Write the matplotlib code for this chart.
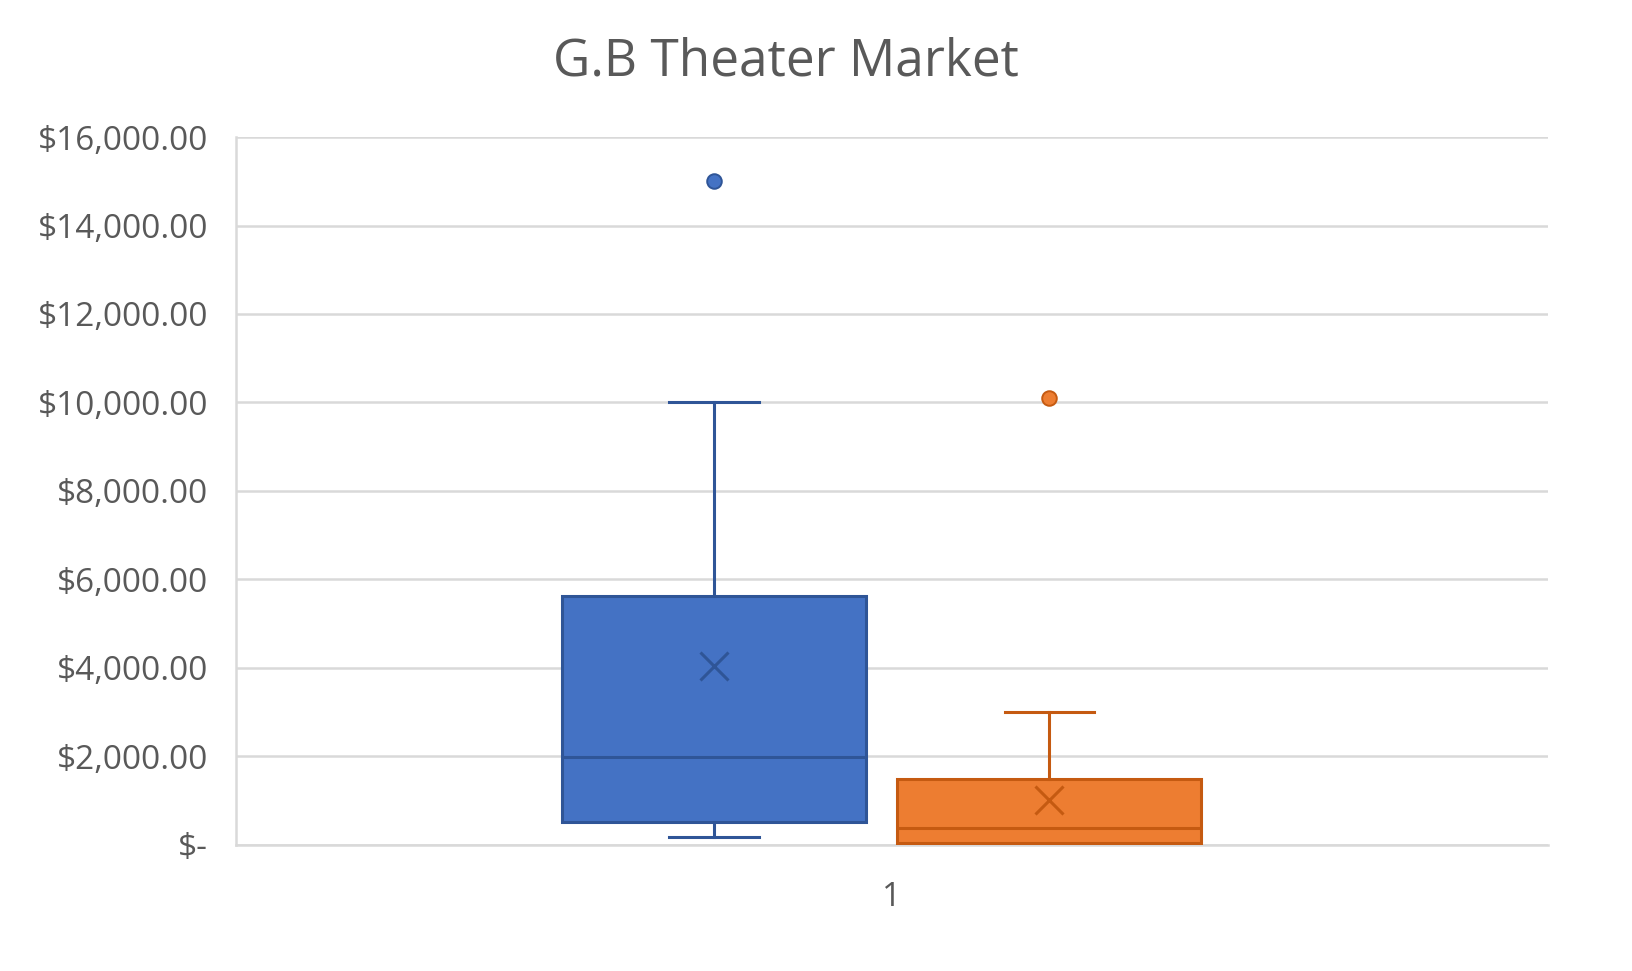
import matplotlib
matplotlib.use("Agg")
import matplotlib.pyplot as plt
import matplotlib.ticker as mticker

series = ["Series A", "Series B"]
whislo = [180, 0]
q1 = [520, 50]
med = [1990, 380]
q3 = [5630, 1490]
whishi = [10000, 3000]
means = [4050, 1020]
fliers = [[15000], [10100]]
categories = ["1"]

face_colors = ["#4472C4", "#ED7D31"]
edge_colors = ["#2F5597", "#C55A11"]
text_color = "#595959"
grid_color = "#D9D9D9"

plt.rcParams['font.family'] = ['Open Sans', 'DejaVu Sans']

fig = plt.figure(figsize=(16.33, 9.71), dpi=100)
ax = fig.add_axes([0.1445, 0.1298, 0.8034, 0.7291])

offsets = [-0.1357, 0.120]
for i in range(len(series)):
    stats = [dict(whislo=whislo[i], q1=q1[i], med=med[i], q3=q3[i],
                  whishi=whishi[i], mean=means[i], fliers=fliers[i])]
    ec = edge_colors[i]
    ax.bxp(stats, positions=[1 + offsets[i]], widths=0.2317, patch_artist=True,
           showmeans=True, capwidths=0.068,
           boxprops=dict(facecolor=face_colors[i], edgecolor=ec, linewidth=2.2),
           medianprops=dict(color=ec, linewidth=2.2),
           whiskerprops=dict(color=ec, linewidth=2.2),
           capprops=dict(color=ec, linewidth=2.2),
           meanprops=dict(marker='x', markeredgecolor=ec, markersize=20,
                          markeredgewidth=2.2),
           flierprops=dict(marker='o', markerfacecolor=face_colors[i],
                           markeredgecolor=ec, markersize=10.5, markeredgewidth=1.4),
           zorder=3)

ax.set_xlim(0.5, 1.5)
ax.set_ylim(0, 16000)
ax.yaxis.set_major_locator(mticker.MultipleLocator(2000))


def money(v, pos):
    if v == 0:
        return "$-"
    return "${:,.2f}".format(v)


ax.yaxis.set_major_formatter(mticker.FuncFormatter(money))
ax.set_xticks([1])
ax.set_xticklabels(categories)
ax.tick_params(axis='y', length=0, pad=20, labelsize=24, labelcolor=text_color)
ax.tick_params(axis='x', length=0, pad=26, labelsize=24, labelcolor=text_color)

ax.grid(axis='y', color=grid_color, linewidth=1.8, zorder=0)
ax.set_axisbelow(True)
for s in ['top', 'right']:
    ax.spines[s].set_visible(False)
for s in ['left', 'bottom']:
    ax.spines[s].set_color(grid_color)
    ax.spines[s].set_linewidth(1.8)

fig.text(0.481, 0.936, "G.B Theater Market", ha='center', va='center',
         fontsize=37, color=text_color)

fig.savefig("out.png", dpi=100)
